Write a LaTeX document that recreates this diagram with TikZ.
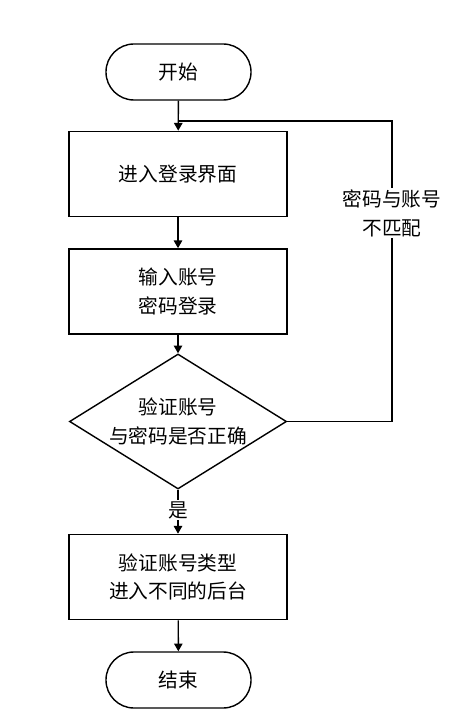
\documentclass[tikz,border=0pt]{standalone}
\usepackage{fontspec}
\newfontfamily\cjk{Noto Sans CJK SC}
\usetikzlibrary{arrows.meta, positioning, shapes.geometric}
\tikzset{
  term/.style={draw, line width=1pt, rounded corners=0.7cm, minimum width=3.625cm, minimum height=1.4cm, align=center, font=\cjk\fontsize{14}{20.5}\selectfont},
  proc/.style={draw, line width=1pt, minimum width=5.45cm, minimum height=2.13cm, align=center, font=\cjk\fontsize{14}{20.5}\selectfont},
  decide/.style={draw, line width=1pt, diamond, inner sep=0pt, minimum width=5.425cm, minimum height=3.375cm},
  txt/.style={align=center, font=\cjk\fontsize{14}{20.5}\selectfont},
  lbl/.style={align=center, fill=white, inner sep=1pt, font=\cjk\fontsize{14}{20.5}\selectfont},
  flow/.style={-{Triangle[length=5.5pt, width=6pt]}, line width=1pt},
  wire/.style={line width=1pt},
}
\begin{document}
\begin{tikzpicture}[x=0.025cm, y=-0.025cm]
    \useasboundingbox (0,0) rectangle (464,720);
    \node[term] (st) at (178.5,72)  {开始};
    \node[proc] (in1) at (178,174)  {进入登录界面};
    \node[proc] (in2) at (178,291.5) {输入账号\\密码登录};
    \node[decide] (chk) at (178,421.5) {};
    \node[txt]  (chkt) at (chk) {验证账号\\与密码是否正确};
    \node[proc] (typ) at (178,577)  {验证账号类型\\进入不同的后台};
    \node[term] (en) at (178.5,680) {结束};
    \coordinate (back) at (178,121);
    \coordinate (rt) at (392,121);
    \draw[flow] (st) -- (in1);
    \draw[flow] (in1) -- (in2);
    \draw[flow] (in2) -- (chk);
    \draw[flow] (chk) -- (typ);
    \draw[flow] (typ) -- (en);
    \draw[wire] (chk.east) -| (rt) -- (back);
    \node[lbl] (nomatch) at (392,213) {密码与账号\\不匹配};
    \node[lbl] (yes) at (178,510) {是};
  \end{tikzpicture}
\end{document}
